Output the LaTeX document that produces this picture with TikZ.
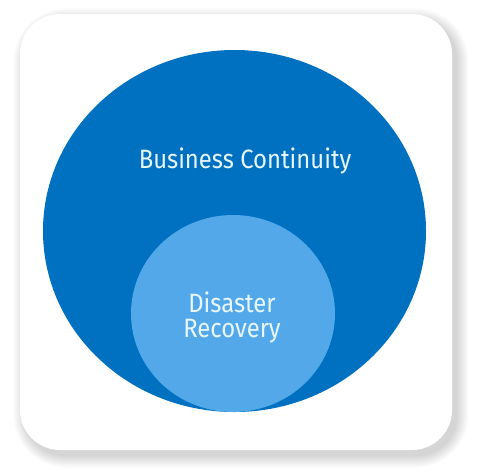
\documentclass[tikz,border=0pt]{standalone}
\usepackage{fontspec}
\setmainfont{Fira Sans}
\newfontfamily\labelfont[FakeStretch=0.9]{Fira Sans}
\usetikzlibrary{shapes.geometric}
\definecolor{bigblue}{HTML}{0070C0}
\definecolor{lightblue}{HTML}{52A8E8}
\definecolor{txtcol}{HTML}{E8F6FF}
\tikzset{
  blob/.style={ellipse, draw=none, inner sep=0pt},
  lbl/.style={text=txtcol, inner sep=0pt, font=\labelfont\fontsize{26.5}{25}\selectfont, align=center},
}
\begin{document}
\begin{tikzpicture}[x=1pt,y=-1pt]
\useasboundingbox (0,0) rectangle (478,474);
\fill[white] (0,0) rectangle (478,474);
\foreach \i in {0,...,13} {
  \fill[black,opacity=0.013,rounded corners={40+\i}]
    ({25-\i*0.9},{20-\i*0.9}) rectangle ({457+\i*0.9},{456+\i*0.9});
}
\node[fill=white, rounded corners=40pt, minimum width=432pt, minimum height=436pt, inner sep=0pt] (card) at (236,232) {};
\node[blob, fill=bigblue, minimum width=383pt, minimum height=362pt] (bc) at (234.5,231) {};
\node[blob, fill=lightblue, minimum width=204pt, minimum height=197pt] (dr) at (233,313.5) {};
\node[lbl] (bct) at (245,161) {Business Continuity};
\node[lbl] (drt) at (232,317) {Disaster\\Recovery};
\end{tikzpicture}
\end{document}
